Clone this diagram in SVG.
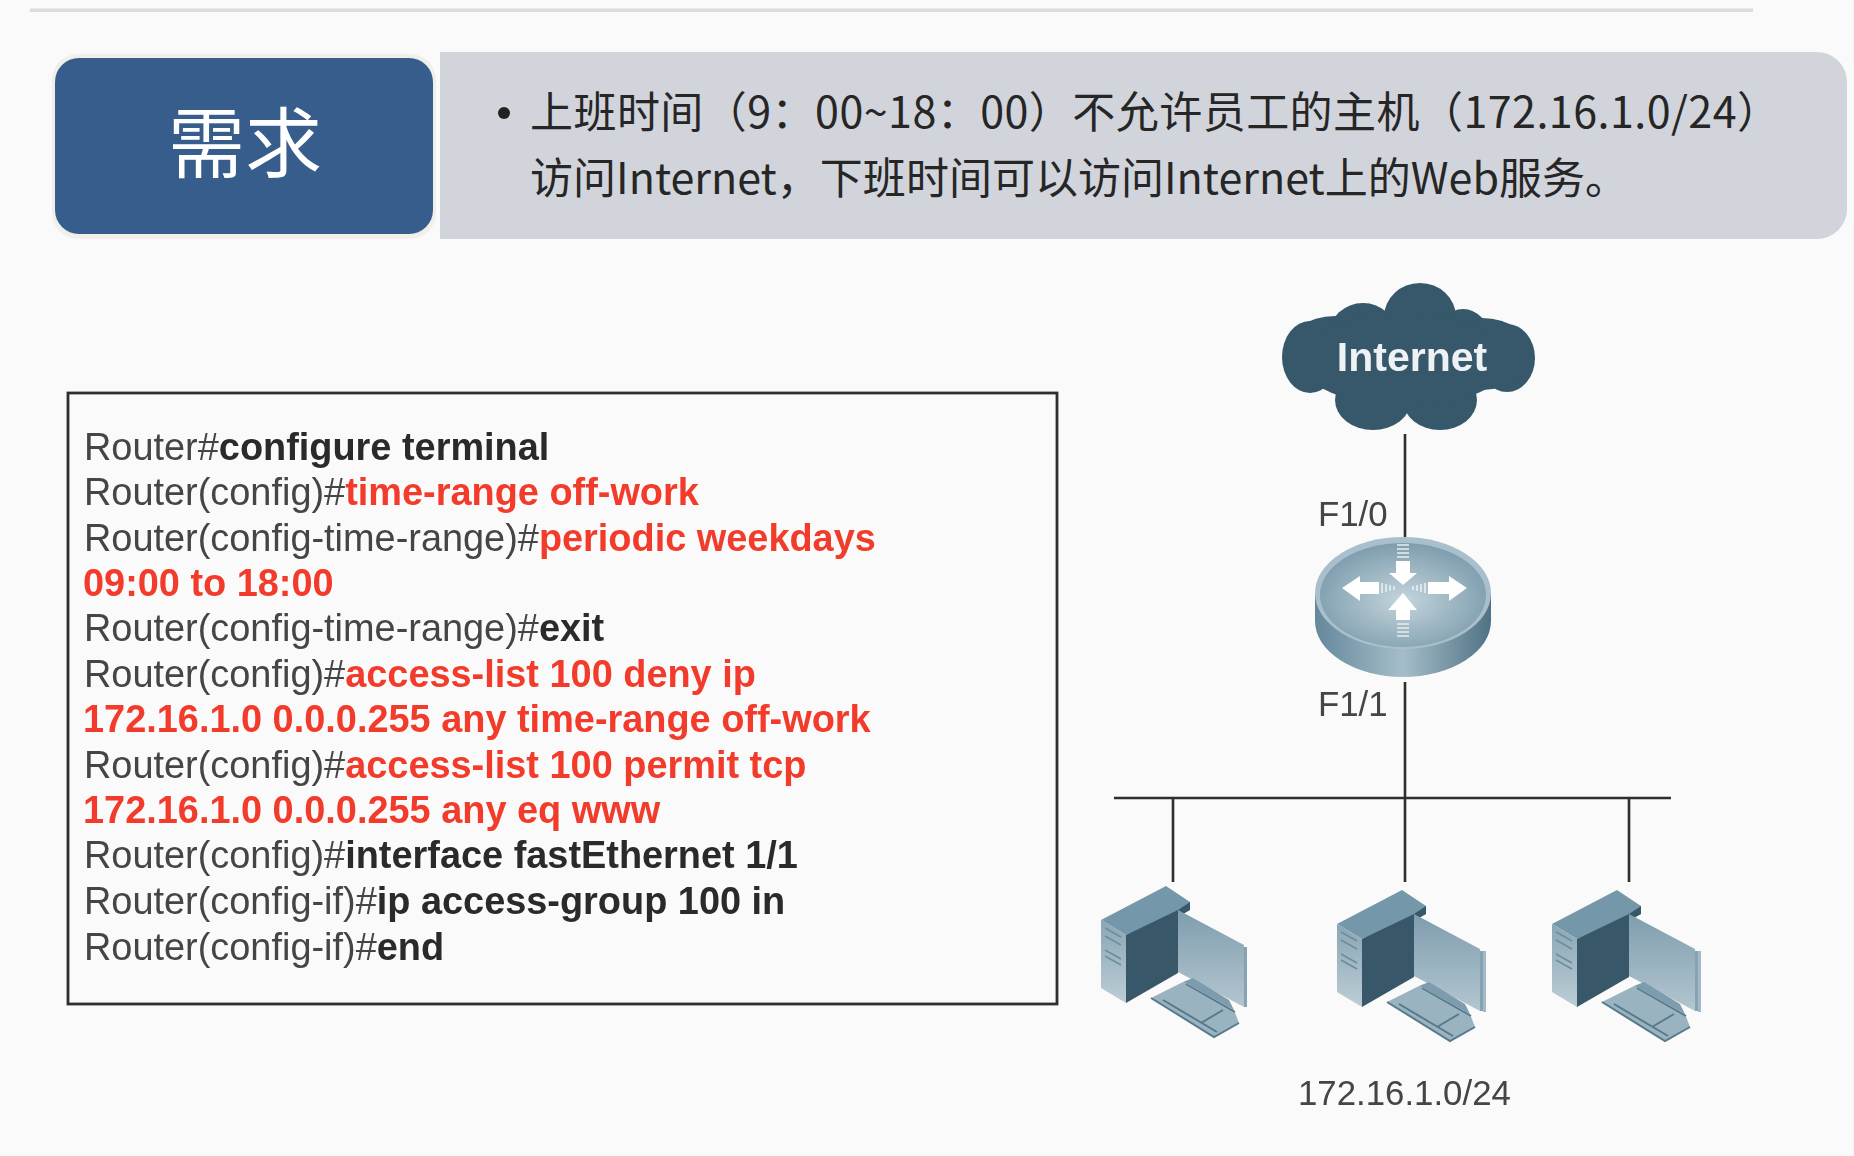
<svg xmlns="http://www.w3.org/2000/svg" xmlns:xlink="http://www.w3.org/1999/xlink" width="1854" height="1156" viewBox="0 0 1854 1156">
<style>
.cjk{font-family:"Noto Sans CJK SC","Noto Sans",sans-serif}
.code{font-family:"Liberation Sans",Arial,sans-serif;font-size:37.9px;fill:#444}
.code .b{font-weight:700;fill:#2b2b2b}
.code .r{font-weight:700;fill:#f23a2a}
.lbl{font-family:"Liberation Sans",Arial,sans-serif;font-size:34.8px;fill:#444}
.wire{stroke:#2e2e2e;stroke-width:2.6;fill:none}
.hatch{stroke:#e8eef1;stroke-width:1.6;fill:none}
</style>
<defs>
<filter id="soft" x="-5%" y="-5%" width="110%" height="110%"><feGaussianBlur stdDeviation="0.7"/></filter>
<filter id="softtext" x="-2%" y="-2%" width="104%" height="104%"><feGaussianBlur stdDeviation="0.45"/></filter>
<linearGradient id="rbody" x1="0" y1="0" x2="1" y2="0"><stop offset="0" stop-color="#64889b"/><stop offset=".5" stop-color="#a5bdc9"/><stop offset="1" stop-color="#4f7285"/></linearGradient>
<radialGradient id="rtop" cx=".5" cy=".55" r=".6"><stop offset="0" stop-color="#c4d5dc"/><stop offset="1" stop-color="#7898aa"/></radialGradient>
<linearGradient id="screen" x1="0" y1="0" x2="0" y2="1"><stop offset="0" stop-color="#7f9dae"/><stop offset="1" stop-color="#b3c6d0"/></linearGradient>
<linearGradient id="front" x1="0" y1="0" x2="0" y2="1"><stop offset="0" stop-color="#8aa6b5"/><stop offset="1" stop-color="#bccdd6"/></linearGradient>
<g id="pc" filter="url(#soft)">
<polygon points="0,0 65,-34 89,-18 89,-10 25,15" fill="#7597aa"/>
<polygon points="0,0 25,15 25,83 0,68" fill="url(#front)"/>
<path d="M4,8 L20,17 M4,16 L20,25 M4,30 L20,39 M4,36 L20,45" stroke="#6d8c9d" stroke-width="1.5" fill="none"/>
<polygon points="25,15 77,-10 77,53 25,83" fill="#37586b"/>
<polygon points="77,-10 89,-18 89,-10 77,-3" fill="#37586b"/>
<polygon points="77,-10 143,25 143,87 77,52" fill="url(#screen)"/>
<polygon points="143,27 146,27 146,87 143,87" fill="#86a3b3"/>
<polygon points="50,78 82,62 133,90 138,103 113,117" fill="#9ab3c1"/>
<path d="M50,78 L113,117 L138,103 M62,80 L116,112 M85,64 L134,92 M100,103 L122,90" stroke="#56798c" stroke-width="2" fill="none"/>
<polygon points="82,62 92,58 128,80 133,90" fill="#7d9cad"/>
</g>
</defs>
<rect width="1854" height="1156" fill="#fafafa"/>
<rect x="30" y="8.500" width="1723" height="3.500" fill="#dcdcdc"/>

<g id="need">
<rect x="52" y="54" width="384" height="185" rx="26" fill="#f1efe9"/>
<rect x="55" y="58" width="378" height="176" rx="24" fill="#375d8c"/>
<text class="cjk" x="245" y="172" font-size="77" fill="#fff" text-anchor="middle">需求</text>
</g>

<g id="requirement">
<path d="M440,52 H1817 A30,30 0 0 1 1847,82 V209 A30,30 0 0 1 1817,239 H440 Z" fill="#d1d4db"/>
<circle cx="504" cy="113" r="6" fill="#222"/>
<text class="cjk" font-size="43" fill="#262626" x="530" y="128" textLength="1250" lengthAdjust="spacing">上班时间（9：00~18：00）不允许员工的主机（172.16.1.0/24）</text>
<text class="cjk" font-size="43" fill="#262626" x="530" y="194" textLength="1098" lengthAdjust="spacing">访问Internet，下班时间可以访问Internet上的Web服务。</text>
</g>

<g id="config">
<rect x="68" y="393" width="989" height="611" fill="none" stroke="#2e2e2e" stroke-width="2.800"/>
<text class="code" filter="url(#softtext)">
<tspan x="84" y="460">Router#<tspan class="b">configure terminal</tspan></tspan>
<tspan x="84" y="505">Router(config)#<tspan class="r">time-range off-work</tspan></tspan>
<tspan x="84" y="551">Router(config-time-range)#<tspan class="r">periodic weekdays</tspan></tspan>
<tspan x="83" y="596" class="r">09:00 to 18:00</tspan>
<tspan x="84" y="641">Router(config-time-range)#<tspan class="b">exit</tspan></tspan>
<tspan x="84" y="687">Router(config)#<tspan class="r">access-list 100 deny ip</tspan></tspan>
<tspan x="83" y="732" class="r">172.16.1.0 0.0.0.255 any time-range off-work</tspan>
<tspan x="84" y="778">Router(config)#<tspan class="r">access-list 100 permit tcp</tspan></tspan>
<tspan x="83" y="823" class="r">172.16.1.0 0.0.0.255 any eq www</tspan>
<tspan x="84" y="868">Router(config)#<tspan class="b">interface fastEthernet 1/1</tspan></tspan>
<tspan x="84" y="914">Router(config-if)#<tspan class="b">ip access-group 100 in</tspan></tspan>
<tspan x="84" y="960">Router(config-if)#<tspan class="b">end</tspan></tspan>
</text>
</g>

<g id="connectors">
<path class="wire" d="M1405,434 V537"/>
<path class="wire" d="M1405,682 V882"/>
<path class="wire" d="M1114,798 H1671"/>
<path class="wire" d="M1173,798 V882"/>
<path class="wire" d="M1629,798 V882"/>
</g>

<g id="internet">
<g fill="#37586b">
<ellipse cx="1310" cy="357" rx="28" ry="36"/>
<ellipse cx="1335" cy="352" rx="50" ry="36"/>
<ellipse cx="1363" cy="335" rx="34" ry="32"/>
<ellipse cx="1420" cy="317" rx="36" ry="34"/>
<ellipse cx="1463" cy="337" rx="26" ry="28"/>
<ellipse cx="1507" cy="358" rx="28" ry="34"/>
<ellipse cx="1482" cy="354" rx="50" ry="36"/>
<ellipse cx="1373" cy="400" rx="38" ry="30"/>
<ellipse cx="1440" cy="400" rx="37" ry="30"/>
<ellipse cx="1405" cy="360" rx="105" ry="46"/>
</g>
<text x="1412" y="371" font-family="'Liberation Sans',Arial,sans-serif" font-weight="700" font-size="41" fill="#eef2f4" text-anchor="middle" filter="url(#softtext)">Internet</text>
</g>

<g id="router" filter="url(#soft)">
<path d="M1315,593 V621 A88,56 0 0 0 1491,621 V593 Z" fill="url(#rbody)"/>
<ellipse cx="1403" cy="593" rx="88" ry="56" fill="#a9c0cc"/>
<ellipse cx="1403" cy="595" rx="83" ry="52" fill="url(#rtop)"/>
<g fill="#fff">
<polygon points="1342,588 1360,576 1360,582 1379,582 1379,594 1360,594 1360,601"/>
<polygon points="1467,588 1449,576 1449,582 1428,582 1428,594 1449,594 1449,601"/>
<polygon points="1403,585 1389,573 1396,573 1396,561 1410,561 1410,573 1417,573"/>
<polygon points="1403,593 1388,610 1396,610 1396,620 1410,620 1410,610 1417,610"/>
</g>
<path class="hatch" d="M1382,583 V593 M1386,584 V592 M1390,585 V591 M1394,586 V590 M1425,583 V593 M1421,584 V592 M1417,585 V591 M1413,586 V590 M1397,545 H1409 M1397,549 H1409 M1397,553 H1409 M1397,557 H1409 M1397,624 H1409 M1397,628 H1409 M1397,632 H1409 M1397,636 H1409"/>
</g>

<g id="pc1"><use xlink:href="#pc" href="#pc" x="1101" y="920"/></g>
<g id="pc2"><use xlink:href="#pc" href="#pc" x="1337" y="924"/><rect x="1483" y="951" width="3" height="61" fill="#a3bac6"/></g>
<g id="pc3"><use xlink:href="#pc" href="#pc" x="1552" y="924"/><rect x="1698" y="951" width="3" height="61" fill="#a3bac6"/></g>

<g id="labels" filter="url(#softtext)">
<text class="lbl" x="1318" y="526">F1/0</text>
<text class="lbl" x="1318" y="716">F1/1</text>
<text class="lbl" x="1298" y="1105">172.16.1.0/24</text>
</g>
</svg>
